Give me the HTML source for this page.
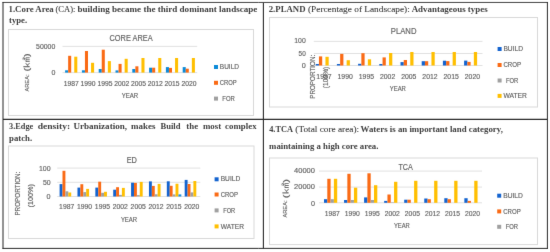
<!DOCTYPE html>
<html><head><meta charset="utf-8"><title>Landscape metrics</title>
<style>html,body{margin:0;padding:0;background:#fff;}svg{display:block;}.h{font-family:"Liberation Serif",serif;}.s{font-family:"Liberation Sans","Noto Sans CJK SC",sans-serif;}</style></head>
<body><svg width="550" height="252" viewBox="0 0 550 252">
<defs><filter id="soft" x="0" y="0" width="100%" height="100%" color-interpolation-filters="sRGB"><feConvolveMatrix order="3" kernelMatrix="0.0049 0.0602 0.0049 0.0602 0.7396 0.0602 0.0049 0.0602 0.0049" divisor="1" edgeMode="duplicate"/></filter></defs>
<g filter="url(#soft)">
<rect x="0" y="0" width="550" height="252" fill="#fff"/>
<rect x="8.5" y="29.5" width="245.0" height="86.0" fill="none" stroke="#d9d9d9" stroke-width="1"/>
<text x="8.51" y="11.5" textLength="45.24" lengthAdjust="spacingAndGlyphs" class="h" font-size="9.0" font-weight="bold" fill="#404040">1.Core Area</text>
<text x="55.52" y="11.5" textLength="19.94" lengthAdjust="spacingAndGlyphs" class="h" font-size="9.0" font-weight="normal" fill="#363636" stroke="#363636" stroke-width="0.08">(CA):</text>
<text x="77.50" y="11.5" textLength="179.78" lengthAdjust="spacingAndGlyphs" class="h" font-size="9.0" font-weight="bold" fill="#404040">building became the third dominant landscape</text>
<text x="9.10" y="23.1" textLength="18.03" lengthAdjust="spacingAndGlyphs" class="h" font-size="9.0" font-weight="bold" fill="#404040">type.</text>
<text x="131.1" y="41.4" text-anchor="middle" class="s" font-size="8.4" fill="#5f5f5f" textLength="43.2" lengthAdjust="spacingAndGlyphs" stroke="#5f5f5f" stroke-width="0.15">CORE AREA</text>
<line x1="62.5" y1="46.4" x2="197.2" y2="46.4" stroke="#dedede" stroke-width="0.9"/>
<line x1="62.5" y1="72.6" x2="197.2" y2="72.6" stroke="#dedede" stroke-width="0.9"/>
<text x="55.3" y="48.7" text-anchor="end" class="s" font-size="7" fill="#5f5f5f" textLength="19.2" lengthAdjust="spacingAndGlyphs" stroke="#5f5f5f" stroke-width="0.15">50000</text>
<text x="55.3" y="74.9" text-anchor="end" class="s" font-size="7" fill="#5f5f5f" stroke="#5f5f5f" stroke-width="0.15">0</text>
<text transform="translate(28.8,91.6) rotate(-90)" text-anchor="start" class="s" font-size="6.0" fill="#5f5f5f" textLength="17.2" lengthAdjust="spacingAndGlyphs" stroke="#5f5f5f" stroke-width="0.15">AREA:</text>
<text transform="translate(28.6,71.6) rotate(-90)" text-anchor="start" class="s" font-size="6.6" fill="#5f5f5f" textLength="18.2" lengthAdjust="spacingAndGlyphs" font-weight="300" stroke="#5f5f5f" stroke-width="0.15">(㎢)</text>
<rect x="65.10" y="70.30" width="3.05" height="2.30" fill="#0b8ad8"/>
<rect x="68.15" y="55.80" width="3.05" height="16.80" fill="#fa6a14"/>
<rect x="74.25" y="56.70" width="3.05" height="15.90" fill="#ffbf00"/>
<rect x="81.90" y="70.30" width="3.05" height="2.30" fill="#0b8ad8"/>
<rect x="84.95" y="51.00" width="3.05" height="21.60" fill="#fa6a14"/>
<rect x="91.05" y="62.80" width="3.05" height="9.80" fill="#ffbf00"/>
<rect x="98.70" y="69.00" width="3.05" height="3.60" fill="#0b8ad8"/>
<rect x="101.75" y="49.70" width="3.05" height="22.90" fill="#fa6a14"/>
<rect x="107.85" y="61.10" width="3.05" height="11.50" fill="#ffbf00"/>
<rect x="115.50" y="70.40" width="3.05" height="2.20" fill="#0b8ad8"/>
<rect x="118.55" y="63.90" width="3.05" height="8.70" fill="#fa6a14"/>
<rect x="124.65" y="58.80" width="3.05" height="13.80" fill="#ffbf00"/>
<rect x="132.30" y="69.00" width="3.05" height="3.60" fill="#0b8ad8"/>
<rect x="135.35" y="66.30" width="3.05" height="6.30" fill="#fa6a14"/>
<rect x="141.45" y="58.00" width="3.05" height="14.60" fill="#ffbf00"/>
<rect x="149.10" y="67.70" width="3.05" height="4.90" fill="#0b8ad8"/>
<rect x="152.15" y="67.70" width="3.05" height="4.90" fill="#fa6a14"/>
<rect x="158.25" y="58.00" width="3.05" height="14.60" fill="#ffbf00"/>
<rect x="165.90" y="67.10" width="3.05" height="5.50" fill="#0b8ad8"/>
<rect x="168.95" y="67.90" width="3.05" height="4.70" fill="#fa6a14"/>
<rect x="175.05" y="58.00" width="3.05" height="14.60" fill="#ffbf00"/>
<rect x="182.70" y="67.10" width="3.05" height="5.50" fill="#0b8ad8"/>
<rect x="185.75" y="68.70" width="3.05" height="3.90" fill="#fa6a14"/>
<rect x="191.85" y="58.00" width="3.05" height="14.60" fill="#ffbf00"/>
<text x="71.3" y="85.7" text-anchor="middle" class="s" font-size="7" fill="#5f5f5f" textLength="15.0" lengthAdjust="spacingAndGlyphs" stroke="#5f5f5f" stroke-width="0.15">1987</text>
<text x="88.1" y="85.7" text-anchor="middle" class="s" font-size="7" fill="#5f5f5f" textLength="15.0" lengthAdjust="spacingAndGlyphs" stroke="#5f5f5f" stroke-width="0.15">1990</text>
<text x="104.9" y="85.7" text-anchor="middle" class="s" font-size="7" fill="#5f5f5f" textLength="15.0" lengthAdjust="spacingAndGlyphs" stroke="#5f5f5f" stroke-width="0.15">1995</text>
<text x="121.7" y="85.7" text-anchor="middle" class="s" font-size="7" fill="#5f5f5f" textLength="15.0" lengthAdjust="spacingAndGlyphs" stroke="#5f5f5f" stroke-width="0.15">2002</text>
<text x="138.5" y="85.7" text-anchor="middle" class="s" font-size="7" fill="#5f5f5f" textLength="15.0" lengthAdjust="spacingAndGlyphs" stroke="#5f5f5f" stroke-width="0.15">2005</text>
<text x="155.3" y="85.7" text-anchor="middle" class="s" font-size="7" fill="#5f5f5f" textLength="15.0" lengthAdjust="spacingAndGlyphs" stroke="#5f5f5f" stroke-width="0.15">2012</text>
<text x="172.10000000000002" y="85.7" text-anchor="middle" class="s" font-size="7" fill="#5f5f5f" textLength="15.0" lengthAdjust="spacingAndGlyphs" stroke="#5f5f5f" stroke-width="0.15">2015</text>
<text x="188.9" y="85.7" text-anchor="middle" class="s" font-size="7" fill="#5f5f5f" textLength="15.0" lengthAdjust="spacingAndGlyphs" stroke="#5f5f5f" stroke-width="0.15">2020</text>
<text x="130.0" y="98.1" text-anchor="middle" class="s" font-size="6.9" fill="#5f5f5f" textLength="16.5" lengthAdjust="spacingAndGlyphs" stroke="#5f5f5f" stroke-width="0.15">YEAR</text>
<rect x="214.00" y="65.00" width="4.00" height="4.00" fill="#0b8ad8"/>
<text x="219.8" y="69.15" text-anchor="start" class="s" font-size="7.2" fill="#5f5f5f" textLength="19.2" lengthAdjust="spacingAndGlyphs" stroke="#5f5f5f" stroke-width="0.15">BUILD</text>
<rect x="214.00" y="80.80" width="4.00" height="4.00" fill="#fa6a14"/>
<text x="219.8" y="84.95" text-anchor="start" class="s" font-size="7.2" fill="#5f5f5f" textLength="16.9" lengthAdjust="spacingAndGlyphs" stroke="#5f5f5f" stroke-width="0.15">CROP</text>
<rect x="214.00" y="96.60" width="4.00" height="4.00" fill="#a0a0a0"/>
<text x="222.3" y="100.75" text-anchor="start" class="s" font-size="7.2" fill="#5f5f5f" textLength="12.5" lengthAdjust="spacingAndGlyphs" stroke="#5f5f5f" stroke-width="0.15">FOR</text>
<rect x="269.5" y="17.5" width="268.0" height="89.5" fill="none" stroke="#d9d9d9" stroke-width="1"/>
<text x="268.71" y="11.5" textLength="36.83" lengthAdjust="spacingAndGlyphs" class="h" font-size="9.0" font-weight="bold" fill="#404040">2.PLAND</text>
<text x="307.99" y="11.5" textLength="101.79" lengthAdjust="spacingAndGlyphs" class="h" font-size="9.0" font-weight="normal" fill="#363636" stroke="#363636" stroke-width="0.08">(Percentage of Landscape):</text>
<text x="411.70" y="11.5" textLength="75.96" lengthAdjust="spacingAndGlyphs" class="h" font-size="9.0" font-weight="bold" fill="#404040">Advantageous types</text>
<text x="403.6" y="33.9" text-anchor="middle" class="s" font-size="8.4" fill="#5f5f5f" textLength="25.7" lengthAdjust="spacingAndGlyphs" stroke="#5f5f5f" stroke-width="0.15">PLAND</text>
<line x1="313.8" y1="41.4" x2="482.5" y2="41.4" stroke="#dedede" stroke-width="0.9"/>
<line x1="313.8" y1="53.5" x2="482.5" y2="53.5" stroke="#dedede" stroke-width="0.9"/>
<line x1="313.8" y1="65.5" x2="482.5" y2="65.5" stroke="#dedede" stroke-width="0.9"/>
<text x="305.7" y="43.3" text-anchor="end" class="s" font-size="7.2" fill="#5f5f5f" textLength="11.4" lengthAdjust="spacingAndGlyphs" stroke="#5f5f5f" stroke-width="0.15">100</text>
<text x="305.7" y="55.9" text-anchor="end" class="s" font-size="7.2" fill="#5f5f5f" textLength="7.1" lengthAdjust="spacingAndGlyphs" stroke="#5f5f5f" stroke-width="0.15">50</text>
<text x="305.7" y="68.0" text-anchor="end" class="s" font-size="7.2" fill="#5f5f5f" stroke="#5f5f5f" stroke-width="0.15">0</text>
<text transform="translate(314.8,76.8) rotate(-90)" text-anchor="middle" class="s" font-size="7.0" fill="#5f5f5f" textLength="44.0" lengthAdjust="spacingAndGlyphs" stroke="#5f5f5f" stroke-width="0.15">PROPORTION:</text>
<text transform="translate(327.8,77.4) rotate(-90)" text-anchor="middle" class="s" font-size="7.0" fill="#5f5f5f" textLength="21.5" lengthAdjust="spacingAndGlyphs" stroke="#5f5f5f" stroke-width="0.15">(100%)</text>
<rect x="315.70" y="64.00" width="3.25" height="1.50" fill="#1363cf"/>
<rect x="318.95" y="56.40" width="3.25" height="9.10" fill="#fa6a14"/>
<rect x="325.45" y="56.80" width="3.25" height="8.70" fill="#ffbf00"/>
<rect x="336.90" y="64.00" width="3.25" height="1.50" fill="#1363cf"/>
<rect x="340.15" y="53.90" width="3.25" height="11.60" fill="#fa6a14"/>
<rect x="346.65" y="60.20" width="3.25" height="5.30" fill="#ffbf00"/>
<rect x="358.10" y="63.80" width="3.25" height="1.70" fill="#1363cf"/>
<rect x="361.35" y="53.20" width="3.25" height="12.30" fill="#fa6a14"/>
<rect x="367.85" y="59.30" width="3.25" height="6.20" fill="#ffbf00"/>
<rect x="379.30" y="64.00" width="3.25" height="1.50" fill="#1363cf"/>
<rect x="382.55" y="57.40" width="3.25" height="8.10" fill="#fa6a14"/>
<rect x="389.05" y="53.00" width="3.25" height="12.50" fill="#ffbf00"/>
<rect x="400.50" y="62.10" width="3.25" height="3.40" fill="#1363cf"/>
<rect x="403.75" y="60.00" width="3.25" height="5.50" fill="#fa6a14"/>
<rect x="410.25" y="52.00" width="3.25" height="13.50" fill="#ffbf00"/>
<rect x="421.70" y="61.20" width="3.25" height="4.30" fill="#1363cf"/>
<rect x="424.95" y="61.20" width="3.25" height="4.30" fill="#fa6a14"/>
<rect x="431.45" y="52.00" width="3.25" height="13.50" fill="#ffbf00"/>
<rect x="442.90" y="60.70" width="3.25" height="4.80" fill="#1363cf"/>
<rect x="446.15" y="61.10" width="3.25" height="4.40" fill="#fa6a14"/>
<rect x="452.65" y="52.00" width="3.25" height="13.50" fill="#ffbf00"/>
<rect x="464.10" y="60.60" width="3.25" height="4.90" fill="#1363cf"/>
<rect x="467.35" y="61.90" width="3.25" height="3.60" fill="#fa6a14"/>
<rect x="473.85" y="52.00" width="3.25" height="13.50" fill="#ffbf00"/>
<text x="324.0" y="78.8" text-anchor="middle" class="s" font-size="7.4" fill="#5f5f5f" textLength="15.3" lengthAdjust="spacingAndGlyphs" stroke="#5f5f5f" stroke-width="0.15">1987</text>
<text x="345.2" y="78.8" text-anchor="middle" class="s" font-size="7.4" fill="#5f5f5f" textLength="15.3" lengthAdjust="spacingAndGlyphs" stroke="#5f5f5f" stroke-width="0.15">1990</text>
<text x="366.4" y="78.8" text-anchor="middle" class="s" font-size="7.4" fill="#5f5f5f" textLength="15.3" lengthAdjust="spacingAndGlyphs" stroke="#5f5f5f" stroke-width="0.15">1995</text>
<text x="387.6" y="78.8" text-anchor="middle" class="s" font-size="7.4" fill="#5f5f5f" textLength="15.3" lengthAdjust="spacingAndGlyphs" stroke="#5f5f5f" stroke-width="0.15">2002</text>
<text x="408.8" y="78.8" text-anchor="middle" class="s" font-size="7.4" fill="#5f5f5f" textLength="15.3" lengthAdjust="spacingAndGlyphs" stroke="#5f5f5f" stroke-width="0.15">2005</text>
<text x="430.0" y="78.8" text-anchor="middle" class="s" font-size="7.4" fill="#5f5f5f" textLength="15.3" lengthAdjust="spacingAndGlyphs" stroke="#5f5f5f" stroke-width="0.15">2012</text>
<text x="451.2" y="78.8" text-anchor="middle" class="s" font-size="7.4" fill="#5f5f5f" textLength="15.3" lengthAdjust="spacingAndGlyphs" stroke="#5f5f5f" stroke-width="0.15">2015</text>
<text x="472.4" y="78.8" text-anchor="middle" class="s" font-size="7.4" fill="#5f5f5f" textLength="15.3" lengthAdjust="spacingAndGlyphs" stroke="#5f5f5f" stroke-width="0.15">2020</text>
<text x="397.8" y="91.0" text-anchor="middle" class="s" font-size="7.0" fill="#5f5f5f" textLength="16.1" lengthAdjust="spacingAndGlyphs" stroke="#5f5f5f" stroke-width="0.15">YEAR</text>
<rect x="497.60" y="47.00" width="4.00" height="4.00" fill="#1363cf"/>
<text x="503.4" y="51.15" text-anchor="start" class="s" font-size="7.2" fill="#5f5f5f" textLength="19.6" lengthAdjust="spacingAndGlyphs" stroke="#5f5f5f" stroke-width="0.15">BUILD</text>
<rect x="497.60" y="63.00" width="4.00" height="4.00" fill="#fa6a14"/>
<text x="503.4" y="67.15" text-anchor="start" class="s" font-size="7.2" fill="#5f5f5f" textLength="17.6" lengthAdjust="spacingAndGlyphs" stroke="#5f5f5f" stroke-width="0.15">CROP</text>
<rect x="497.60" y="78.50" width="4.00" height="4.00" fill="#a0a0a0"/>
<text x="505.9" y="82.65" text-anchor="start" class="s" font-size="7.2" fill="#5f5f5f" textLength="12.4" lengthAdjust="spacingAndGlyphs" stroke="#5f5f5f" stroke-width="0.15">FOR</text>
<rect x="497.60" y="93.90" width="4.00" height="4.00" fill="#ffbf00"/>
<text x="503.4" y="98.05000000000001" text-anchor="start" class="s" font-size="7.2" fill="#5f5f5f" textLength="23.5" lengthAdjust="spacingAndGlyphs" stroke="#5f5f5f" stroke-width="0.15">WATER</text>
<rect x="8.5" y="146" width="245.5" height="92.5" fill="none" stroke="#d9d9d9" stroke-width="1"/>
<text x="9.02" y="128.9" textLength="24.21" lengthAdjust="spacingAndGlyphs" class="h" font-size="9.0" font-weight="bold" fill="#404040">3.Edge</text>
<text x="37.67" y="128.9" textLength="32.48" lengthAdjust="spacingAndGlyphs" class="h" font-size="9.0" font-weight="bold" fill="#404040">density:</text>
<text x="73.40" y="128.9" textLength="53.66" lengthAdjust="spacingAndGlyphs" class="h" font-size="9.0" font-weight="bold" fill="#404040">Urbanization,</text>
<text x="131.00" y="128.9" textLength="24.40" lengthAdjust="spacingAndGlyphs" class="h" font-size="9.0" font-weight="bold" fill="#404040">makes</text>
<text x="160.51" y="128.9" textLength="20.00" lengthAdjust="spacingAndGlyphs" class="h" font-size="9.0" font-weight="bold" fill="#404040">Build</text>
<text x="186.30" y="128.9" textLength="11.79" lengthAdjust="spacingAndGlyphs" class="h" font-size="9.0" font-weight="bold" fill="#404040">the</text>
<text x="202.90" y="128.9" textLength="18.19" lengthAdjust="spacingAndGlyphs" class="h" font-size="9.0" font-weight="bold" fill="#404040">most</text>
<text x="225.10" y="128.9" textLength="31.49" lengthAdjust="spacingAndGlyphs" class="h" font-size="9.0" font-weight="bold" fill="#404040">complex</text>
<text x="9.10" y="140.6" textLength="23.04" lengthAdjust="spacingAndGlyphs" class="h" font-size="9.0" font-weight="bold" fill="#404040">patch.</text>
<text x="131.8" y="162.9" text-anchor="middle" class="s" font-size="8.4" fill="#5f5f5f" textLength="10.3" lengthAdjust="spacingAndGlyphs" stroke="#5f5f5f" stroke-width="0.15">ED</text>
<line x1="57.2" y1="168.1" x2="200.3" y2="168.1" stroke="#dedede" stroke-width="0.9"/>
<line x1="57.2" y1="182.3" x2="200.3" y2="182.3" stroke="#dedede" stroke-width="0.9"/>
<line x1="57.2" y1="196.5" x2="200.3" y2="196.5" stroke="#dedede" stroke-width="0.9"/>
<text x="50.6" y="170.6" text-anchor="end" class="s" font-size="7.2" fill="#5f5f5f" textLength="11.6" lengthAdjust="spacingAndGlyphs" stroke="#5f5f5f" stroke-width="0.15">100</text>
<text x="50.6" y="185.0" text-anchor="end" class="s" font-size="7.2" fill="#5f5f5f" textLength="7.7" lengthAdjust="spacingAndGlyphs" stroke="#5f5f5f" stroke-width="0.15">50</text>
<text x="50.6" y="198.9" text-anchor="end" class="s" font-size="7.2" fill="#5f5f5f" stroke="#5f5f5f" stroke-width="0.15">0</text>
<text transform="translate(20.1,193.6) rotate(-90)" text-anchor="middle" class="s" font-size="7.0" fill="#5f5f5f" textLength="44.0" lengthAdjust="spacingAndGlyphs" stroke="#5f5f5f" stroke-width="0.15">PROPORTION:</text>
<text transform="translate(33.0,195.8) rotate(-90)" text-anchor="middle" class="s" font-size="7.0" fill="#5f5f5f" textLength="23.5" lengthAdjust="spacingAndGlyphs" stroke="#5f5f5f" stroke-width="0.15">(100%)</text>
<rect x="59.60" y="184.10" width="2.90" height="12.40" fill="#1363cf"/>
<rect x="62.50" y="170.80" width="2.90" height="25.70" fill="#fa6a14"/>
<rect x="65.40" y="191.30" width="2.90" height="5.20" fill="#a0a0a0"/>
<rect x="68.30" y="192.50" width="2.90" height="4.00" fill="#ffbf00"/>
<rect x="77.47" y="187.60" width="2.90" height="8.90" fill="#1363cf"/>
<rect x="80.37" y="184.20" width="2.90" height="12.30" fill="#fa6a14"/>
<rect x="83.27" y="192.10" width="2.90" height="4.40" fill="#a0a0a0"/>
<rect x="86.17" y="188.90" width="2.90" height="7.60" fill="#ffbf00"/>
<rect x="95.34" y="187.60" width="2.90" height="8.90" fill="#1363cf"/>
<rect x="98.24" y="181.70" width="2.90" height="14.80" fill="#fa6a14"/>
<rect x="101.14" y="192.80" width="2.90" height="3.70" fill="#a0a0a0"/>
<rect x="104.04" y="191.80" width="2.90" height="4.70" fill="#ffbf00"/>
<rect x="113.21" y="189.70" width="2.90" height="6.80" fill="#1363cf"/>
<rect x="116.11" y="187.20" width="2.90" height="9.30" fill="#fa6a14"/>
<rect x="119.01" y="194.90" width="2.90" height="1.60" fill="#a0a0a0"/>
<rect x="121.91" y="187.90" width="2.90" height="8.60" fill="#ffbf00"/>
<rect x="131.08" y="182.70" width="2.90" height="13.80" fill="#1363cf"/>
<rect x="133.98" y="182.90" width="2.90" height="13.60" fill="#fa6a14"/>
<rect x="136.88" y="195.10" width="2.90" height="1.40" fill="#a0a0a0"/>
<rect x="139.78" y="181.90" width="2.90" height="14.60" fill="#ffbf00"/>
<rect x="148.95" y="181.40" width="2.90" height="15.10" fill="#1363cf"/>
<rect x="151.85" y="185.90" width="2.90" height="10.60" fill="#fa6a14"/>
<rect x="154.75" y="194.30" width="2.90" height="2.20" fill="#a0a0a0"/>
<rect x="157.65" y="183.90" width="2.90" height="12.60" fill="#ffbf00"/>
<rect x="166.82" y="181.30" width="2.90" height="15.20" fill="#1363cf"/>
<rect x="169.72" y="185.80" width="2.90" height="10.70" fill="#fa6a14"/>
<rect x="172.62" y="194.40" width="2.90" height="2.10" fill="#a0a0a0"/>
<rect x="175.52" y="183.75" width="2.90" height="12.75" fill="#ffbf00"/>
<rect x="184.69" y="179.90" width="2.90" height="16.60" fill="#1363cf"/>
<rect x="187.59" y="184.00" width="2.90" height="12.50" fill="#fa6a14"/>
<rect x="190.49" y="192.40" width="2.90" height="4.10" fill="#a0a0a0"/>
<rect x="193.39" y="181.00" width="2.90" height="15.50" fill="#ffbf00"/>
<rect x="178.42" y="194.40" width="2.90" height="2.10" fill="#1a8fe0"/>
<text x="66.7" y="209.0" text-anchor="middle" class="s" font-size="7.2" fill="#5f5f5f" textLength="15.2" lengthAdjust="spacingAndGlyphs" stroke="#5f5f5f" stroke-width="0.15">1987</text>
<text x="84.57000000000001" y="209.0" text-anchor="middle" class="s" font-size="7.2" fill="#5f5f5f" textLength="15.2" lengthAdjust="spacingAndGlyphs" stroke="#5f5f5f" stroke-width="0.15">1990</text>
<text x="102.44" y="209.0" text-anchor="middle" class="s" font-size="7.2" fill="#5f5f5f" textLength="15.2" lengthAdjust="spacingAndGlyphs" stroke="#5f5f5f" stroke-width="0.15">1995</text>
<text x="120.31" y="209.0" text-anchor="middle" class="s" font-size="7.2" fill="#5f5f5f" textLength="15.2" lengthAdjust="spacingAndGlyphs" stroke="#5f5f5f" stroke-width="0.15">2002</text>
<text x="138.18" y="209.0" text-anchor="middle" class="s" font-size="7.2" fill="#5f5f5f" textLength="15.2" lengthAdjust="spacingAndGlyphs" stroke="#5f5f5f" stroke-width="0.15">2005</text>
<text x="156.05" y="209.0" text-anchor="middle" class="s" font-size="7.2" fill="#5f5f5f" textLength="15.2" lengthAdjust="spacingAndGlyphs" stroke="#5f5f5f" stroke-width="0.15">2012</text>
<text x="173.92000000000002" y="209.0" text-anchor="middle" class="s" font-size="7.2" fill="#5f5f5f" textLength="15.2" lengthAdjust="spacingAndGlyphs" stroke="#5f5f5f" stroke-width="0.15">2015</text>
<text x="191.79000000000002" y="209.0" text-anchor="middle" class="s" font-size="7.2" fill="#5f5f5f" textLength="15.2" lengthAdjust="spacingAndGlyphs" stroke="#5f5f5f" stroke-width="0.15">2020</text>
<text x="129.0" y="222.1" text-anchor="middle" class="s" font-size="7.0" fill="#5f5f5f" textLength="16.2" lengthAdjust="spacingAndGlyphs" stroke="#5f5f5f" stroke-width="0.15">YEAR</text>
<rect x="214.60" y="177.30" width="4.00" height="4.00" fill="#1363cf"/>
<text x="220.7" y="181.45000000000002" text-anchor="start" class="s" font-size="7.2" fill="#5f5f5f" textLength="19.5" lengthAdjust="spacingAndGlyphs" stroke="#5f5f5f" stroke-width="0.15">BUILD</text>
<rect x="214.60" y="192.50" width="4.00" height="4.00" fill="#fa6a14"/>
<text x="220.7" y="196.65" text-anchor="start" class="s" font-size="7.2" fill="#5f5f5f" textLength="17.3" lengthAdjust="spacingAndGlyphs" stroke="#5f5f5f" stroke-width="0.15">CROP</text>
<rect x="214.60" y="208.40" width="4.00" height="4.00" fill="#a0a0a0"/>
<text x="223.2" y="212.55" text-anchor="start" class="s" font-size="7.2" fill="#5f5f5f" textLength="12.0" lengthAdjust="spacingAndGlyphs" stroke="#5f5f5f" stroke-width="0.15">FOR</text>
<rect x="214.60" y="224.40" width="4.00" height="4.00" fill="#ffbf00"/>
<text x="220.7" y="228.55" text-anchor="start" class="s" font-size="7.2" fill="#5f5f5f" textLength="23.3" lengthAdjust="spacingAndGlyphs" stroke="#5f5f5f" stroke-width="0.15">WATER</text>
<rect x="269.5" y="158" width="268.0" height="86.6" fill="none" stroke="#d9d9d9" stroke-width="1"/>
<text x="269.21" y="131.9" textLength="23.74" lengthAdjust="spacingAndGlyphs" class="h" font-size="9.0" font-weight="bold" fill="#404040">4.TCA</text>
<text x="295.29" y="131.9" textLength="63.87" lengthAdjust="spacingAndGlyphs" class="h" font-size="9.0" font-weight="normal" fill="#363636" stroke="#363636" stroke-width="0.08">(Total core area):</text>
<text x="360.60" y="131.9" textLength="142.28" lengthAdjust="spacingAndGlyphs" class="h" font-size="9.0" font-weight="bold" fill="#404040">Waters is an important land category,</text>
<text x="269.11" y="148.8" textLength="109.30" lengthAdjust="spacingAndGlyphs" class="h" font-size="9.0" font-weight="bold" fill="#404040">maintaining a high core area.</text>
<text x="405.6" y="169.9" text-anchor="middle" class="s" font-size="8.4" fill="#5f5f5f" textLength="14.4" lengthAdjust="spacingAndGlyphs" stroke="#5f5f5f" stroke-width="0.15">TCA</text>
<line x1="319.0" y1="171.1" x2="482.0" y2="171.1" stroke="#dedede" stroke-width="0.9"/>
<line x1="319.0" y1="187.1" x2="482.0" y2="187.1" stroke="#dedede" stroke-width="0.9"/>
<line x1="319.0" y1="202.8" x2="482.0" y2="202.8" stroke="#dedede" stroke-width="0.9"/>
<text x="314.9" y="173.2" text-anchor="end" class="s" font-size="7.2" fill="#5f5f5f" textLength="20.8" lengthAdjust="spacingAndGlyphs" stroke="#5f5f5f" stroke-width="0.15">40000</text>
<text x="314.9" y="189.4" text-anchor="end" class="s" font-size="7.2" fill="#5f5f5f" textLength="20.8" lengthAdjust="spacingAndGlyphs" stroke="#5f5f5f" stroke-width="0.15">20000</text>
<text x="314.9" y="205.7" text-anchor="end" class="s" font-size="7.2" fill="#5f5f5f" stroke="#5f5f5f" stroke-width="0.15">0</text>
<text transform="translate(287.4,217.6) rotate(-90)" text-anchor="start" class="s" font-size="6.0" fill="#5f5f5f" textLength="17.2" lengthAdjust="spacingAndGlyphs" stroke="#5f5f5f" stroke-width="0.15">AREA:</text>
<text transform="translate(287.6,198.2) rotate(-90)" text-anchor="start" class="s" font-size="6.6" fill="#5f5f5f" textLength="19.2" lengthAdjust="spacingAndGlyphs" font-weight="300" stroke="#5f5f5f" stroke-width="0.15">(㎢)</text>
<rect x="324.00" y="199.20" width="3.30" height="3.60" fill="#1363cf"/>
<rect x="327.30" y="178.80" width="3.30" height="24.00" fill="#fa6a14"/>
<rect x="330.60" y="199.20" width="3.30" height="3.60" fill="#a0a0a0"/>
<rect x="333.90" y="178.80" width="3.30" height="24.00" fill="#ffbf00"/>
<rect x="344.05" y="200.00" width="3.30" height="2.80" fill="#1363cf"/>
<rect x="347.35" y="173.80" width="3.30" height="29.00" fill="#fa6a14"/>
<rect x="350.65" y="200.00" width="3.30" height="2.80" fill="#a0a0a0"/>
<rect x="353.95" y="187.70" width="3.30" height="15.10" fill="#ffbf00"/>
<rect x="364.10" y="197.40" width="3.30" height="5.40" fill="#1363cf"/>
<rect x="367.40" y="173.30" width="3.30" height="29.50" fill="#fa6a14"/>
<rect x="370.70" y="200.00" width="3.30" height="2.80" fill="#a0a0a0"/>
<rect x="374.00" y="185.20" width="3.30" height="17.60" fill="#ffbf00"/>
<rect x="384.15" y="200.90" width="3.30" height="1.90" fill="#1363cf"/>
<rect x="387.45" y="194.50" width="3.30" height="8.30" fill="#fa6a14"/>
<rect x="390.75" y="202.30" width="3.30" height="0.50" fill="#a0a0a0"/>
<rect x="394.05" y="181.80" width="3.30" height="21.00" fill="#ffbf00"/>
<rect x="404.20" y="199.70" width="3.30" height="3.10" fill="#1363cf"/>
<rect x="407.50" y="199.70" width="3.30" height="3.10" fill="#fa6a14"/>
<rect x="414.10" y="180.80" width="3.30" height="22.00" fill="#ffbf00"/>
<rect x="424.25" y="198.50" width="3.30" height="4.30" fill="#1363cf"/>
<rect x="427.55" y="199.20" width="3.30" height="3.60" fill="#fa6a14"/>
<rect x="434.15" y="180.80" width="3.30" height="22.00" fill="#ffbf00"/>
<rect x="444.30" y="198.20" width="3.30" height="4.60" fill="#1363cf"/>
<rect x="447.60" y="199.20" width="3.30" height="3.60" fill="#fa6a14"/>
<rect x="454.20" y="180.80" width="3.30" height="22.00" fill="#ffbf00"/>
<rect x="464.35" y="198.20" width="3.30" height="4.60" fill="#1363cf"/>
<rect x="467.65" y="200.90" width="3.30" height="1.90" fill="#fa6a14"/>
<rect x="474.25" y="180.80" width="3.30" height="22.00" fill="#ffbf00"/>
<text x="332.2" y="216.1" text-anchor="middle" class="s" font-size="7.2" fill="#5f5f5f" textLength="15.1" lengthAdjust="spacingAndGlyphs" stroke="#5f5f5f" stroke-width="0.15">1987</text>
<text x="352.25" y="216.1" text-anchor="middle" class="s" font-size="7.2" fill="#5f5f5f" textLength="15.1" lengthAdjust="spacingAndGlyphs" stroke="#5f5f5f" stroke-width="0.15">1990</text>
<text x="372.3" y="216.1" text-anchor="middle" class="s" font-size="7.2" fill="#5f5f5f" textLength="15.1" lengthAdjust="spacingAndGlyphs" stroke="#5f5f5f" stroke-width="0.15">1995</text>
<text x="392.35" y="216.1" text-anchor="middle" class="s" font-size="7.2" fill="#5f5f5f" textLength="15.1" lengthAdjust="spacingAndGlyphs" stroke="#5f5f5f" stroke-width="0.15">2002</text>
<text x="412.4" y="216.1" text-anchor="middle" class="s" font-size="7.2" fill="#5f5f5f" textLength="15.1" lengthAdjust="spacingAndGlyphs" stroke="#5f5f5f" stroke-width="0.15">2005</text>
<text x="432.45" y="216.1" text-anchor="middle" class="s" font-size="7.2" fill="#5f5f5f" textLength="15.1" lengthAdjust="spacingAndGlyphs" stroke="#5f5f5f" stroke-width="0.15">2012</text>
<text x="452.5" y="216.1" text-anchor="middle" class="s" font-size="7.2" fill="#5f5f5f" textLength="15.1" lengthAdjust="spacingAndGlyphs" stroke="#5f5f5f" stroke-width="0.15">2015</text>
<text x="472.54999999999995" y="216.1" text-anchor="middle" class="s" font-size="7.2" fill="#5f5f5f" textLength="15.1" lengthAdjust="spacingAndGlyphs" stroke="#5f5f5f" stroke-width="0.15">2020</text>
<text x="401.9" y="227.7" text-anchor="middle" class="s" font-size="7.0" fill="#5f5f5f" textLength="15.8" lengthAdjust="spacingAndGlyphs" stroke="#5f5f5f" stroke-width="0.15">YEAR</text>
<rect x="497.20" y="193.70" width="4.00" height="4.00" fill="#1363cf"/>
<text x="503.2" y="197.85" text-anchor="start" class="s" font-size="7.2" fill="#5f5f5f" textLength="19.7" lengthAdjust="spacingAndGlyphs" stroke="#5f5f5f" stroke-width="0.15">BUILD</text>
<rect x="497.20" y="209.40" width="4.00" height="4.00" fill="#fa6a14"/>
<text x="503.2" y="213.55" text-anchor="start" class="s" font-size="7.2" fill="#5f5f5f" textLength="17.5" lengthAdjust="spacingAndGlyphs" stroke="#5f5f5f" stroke-width="0.15">CROP</text>
<rect x="497.20" y="224.80" width="4.00" height="4.00" fill="#a0a0a0"/>
<text x="505.7" y="228.95000000000002" text-anchor="start" class="s" font-size="7.2" fill="#5f5f5f" textLength="12.4" lengthAdjust="spacingAndGlyphs" stroke="#5f5f5f" stroke-width="0.15">FOR</text>
<line x1="263.4" y1="2.5" x2="263.4" y2="248.4" stroke="#2a2a2a" stroke-width="1.1"/>
<line x1="3" y1="119.4" x2="547.4" y2="119.4" stroke="#2a2a2a" stroke-width="1.1"/>
<line x1="2.5" y1="2.45" x2="547.9" y2="2.45" stroke="#444" stroke-width="1"/>
<line x1="3.0" y1="2" x2="3.0" y2="248.9" stroke="#222" stroke-width="1"/>
<line x1="547.4" y1="2" x2="547.4" y2="248.9" stroke="#2a2a2a" stroke-width="1"/>
<line x1="2.5" y1="248.4" x2="547.9" y2="248.4" stroke="#2a2a2a" stroke-width="1"/>
</g>
</svg></body></html>
